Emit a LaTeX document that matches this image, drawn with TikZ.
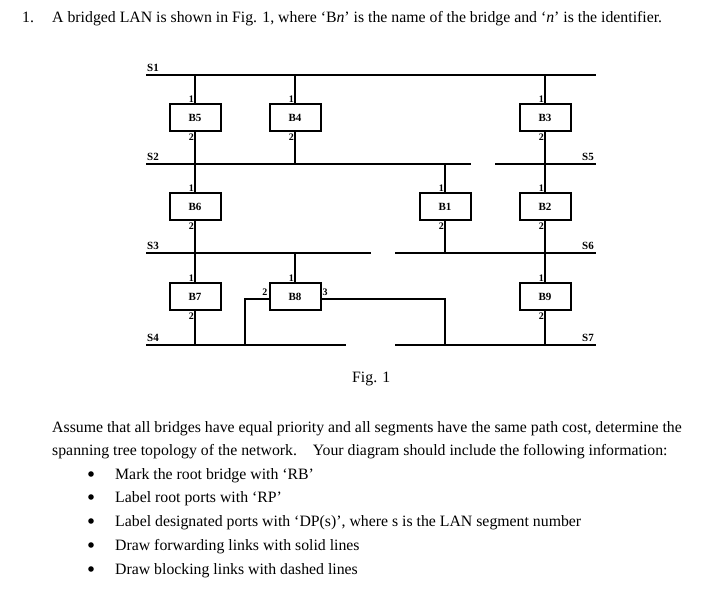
\documentclass[tikz,border=0pt]{standalone}
\usepackage{fontspec}
\setmainfont{Liberation Serif}
\begin{document}
\begin{tikzpicture}[x=1pt,y=-1pt,
  seg/.style={line width=2.3pt},
  br/.style={draw,line width=2pt,minimum width=51pt,minimum height=27pt,inner sep=0pt,font=\fontsize{11}{11}\selectfont\bfseries},
  wire/.style={line width=1.3pt},
  pl/.style={font=\fontsize{10}{10}\selectfont\bfseries,inner sep=1pt},
  sl/.style={font=\fontsize{11}{11}\selectfont\bfseries,inner sep=1.5pt},
  txt/.style={font=\fontsize{15.8}{15.8}\selectfont,anchor=base west,inner sep=0pt}]
\useasboundingbox (0,0) rectangle (715,593);
% segments
\coordinate (s1a) at (146,75); \coordinate (s1b) at (596,75);
\coordinate (s2a) at (146,164); \coordinate (s2b) at (471,164);
\coordinate (s5a) at (495,164); \coordinate (s5b) at (596,164);
\coordinate (s3a) at (146,253); \coordinate (s3b) at (371,253);
\coordinate (s6a) at (395,253); \coordinate (s6b) at (596,253);
\coordinate (s4a) at (146,345); \coordinate (s4b) at (346,345);
\coordinate (s7a) at (395,345); \coordinate (s7b) at (596,345);
\foreach \a/\b in {s1a/s1b,s2a/s2b,s5a/s5b,s3a/s3b,s6a/s6b,s4a/s4b,s7a/s7b} \draw[seg] (\a)--(\b);
\node[sl,anchor=south] (l1) at (153,73) {S1};
\node[sl,anchor=south] (l2) at (153,162) {S2};
\node[sl,anchor=south] (l3) at (153,251) {S3};
\node[sl,anchor=south] (l4) at (153,343) {S4};
\node[sl,anchor=south] (l5) at (588,162) {S5};
\node[sl,anchor=south] (l6) at (588,251) {S6};
\node[sl,anchor=south] (l7) at (588,343) {S7};
% bridges
\node[br] (B5) at (195,118) {B5};
\node[br] (B4) at (295,118) {B4};
\node[br] (B3) at (545,118) {B3};
\node[br] (B6) at (195,207) {B6};
\node[br] (B1) at (445,207) {B1};
\node[br] (B2) at (545,207) {B2};
\node[br] (B7) at (195,297) {B7};
\node[br] (B8) at (295,297) {B8};
\node[br] (B9) at (545,297) {B9};
% vertical links
\foreach \b/\t/\u in {B5/75/164,B4/75/164,B3/75/164,B6/164/253,B1/164/253,B2/164/253,B7/253/345,B9/253/345}{
  \draw[wire] (\b.north) -- (\b.north |- 0,\t);
  \draw[wire] (\b.south) -- (\b.south |- 0,\u);
  \node[pl,anchor=south east] at (\b.north) {1};
  \node[pl,anchor=north east] at (\b.south) {2};
}
\draw[wire] (B8.north) -- (B8.north |- 0,253);
\node[pl,anchor=south east] at (B8.north) {1};
\coordinate (c2) at (245,345); \coordinate (c3) at (445,345);
\draw[wire] (B8.west |- 0,299) -| (c2);
\draw[wire] (B8.east |- 0,299) -| (c3);
\node[pl,anchor=south east] at (B8.west |- 0,297) {2};
\node[pl,anchor=south west] at (B8.east |- 0,297) {3};
% text
\node[txt] (n1) at (22,23) {1.};
\node[txt] (t0) at (52,23) {A bridged LAN is shown in Fig. 1, where `B\textit{n}' is the name of the bridge and `\textit{n}' is the identifier.};
\node[txt] (fig) at (352,383) {Fig. 1};
\node[txt] (p1) at (52,432) {Assume that all bridges have equal priority and all segments have the same path cost, determine the};
\node[txt] (p2) at (52,455) {spanning tree topology of the network.\quad Your diagram should include the following information:};
\foreach \y/\s in {479/{Mark the root bridge with `RB'},502/{Label root ports with `RP'},526/{Label designated ports with `DP(s)', where s is the LAN segment number},550/{Draw forwarding links with solid lines},574/{Draw blocking links with dashed lines}}{
  \node[txt] at (115,\y) {\s};
  \fill (91,\y-5) circle (2.8pt);
}
\end{tikzpicture}
\end{document}
